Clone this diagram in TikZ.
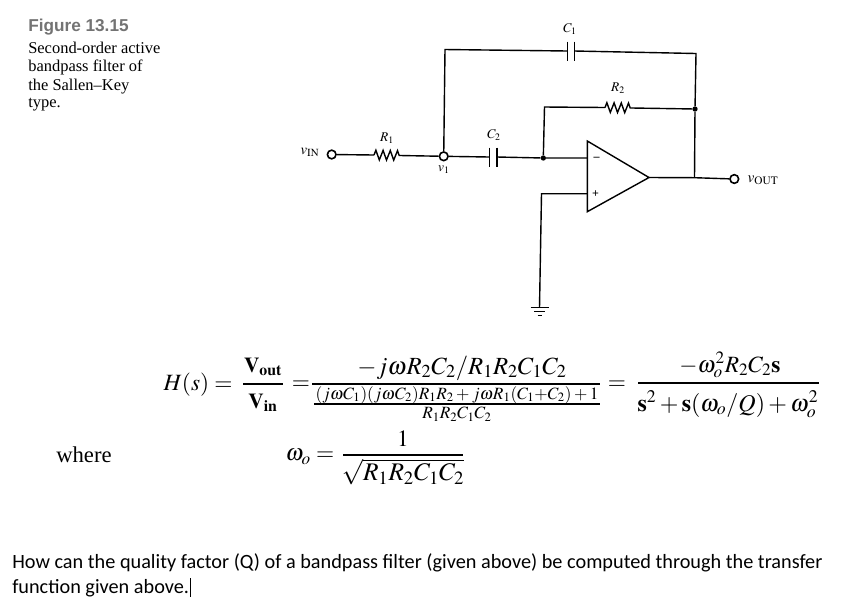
\documentclass[tikz,border=0pt]{standalone}
\usepackage{mathptmx}
\usepackage{fontspec}
\setmainfont{Liberation Serif}
\newfontfamily\calibrifont{Carlito}
\newfontfamily\headfont{Liberation Sans}
\usetikzlibrary{calc, decorations.pathmorphing}
\tikzset{
  wire/.style={line width=1.05pt},
  resistor/.style={wire, decorate, decoration={zigzag, segment length=5.4, amplitude=3.6}},
  plate/.style={line width=1.1pt},
  terminal/.style={circle, draw, line width=1.2pt, fill=white, minimum size=6.5pt, inner sep=0pt},
  junction/.style={circle, fill=black, minimum size=4pt, inner sep=0pt},
  caption/.style={anchor=west, inner sep=0pt, font=\fontsize{12.35}{14}\selectfont},
  partlabel/.style={inner sep=0pt, font=\fontsize{10}{12}\selectfont},
  sign/.style={inner sep=0pt, font=\bfseries\fontsize{9}{11}\selectfont},
  eqn/.style={inner sep=0pt, font=\fontsize{17.5}{20}\selectfont},
  eqnlarge/.style={inner sep=0pt, font=\fontsize{18.5}{21}\selectfont},
  eqnsmall/.style={inner sep=0pt, font=\fontsize{12.9}{15}\selectfont},
  bar/.style={line width=0.8pt},
  question/.style={anchor=west, inner sep=0pt, font=\calibrifont\fontsize{15.2}{18}\selectfont}
}
\begin{document}
\begin{tikzpicture}[x=0.75pt, y=-0.75pt]
\useasboundingbox (0, 0) rectangle (860, 612);
% caption
\node [caption, font=\headfont\bfseries\fontsize{12.9}{15}\selectfont, text=black!55] (fig) at (28, 27) {Figure 13.15};
\node [caption] (cap1) at (28, 48) {Second-order active};
\node [caption] (cap2) at (28, 67) {bandpass filter of};
\node [caption] (cap3) at (28, 87) {the Sallen--Key};
\node [caption] (cap4) at (28, 105) {type.};
% points of the circuit
\node [terminal] (vin) at (331.7, 154.5) {};
\coordinate (R1a) at (374, 155);
\coordinate (R1b) at (400, 155.5);
\node [terminal] (v1) at (443.7, 156.3) {};
\coordinate (C2a) at (489.5, 157);
\coordinate (C2b) at (497, 157);
\node [junction] (minus) at (543.3, 158) {};
\coordinate (R2corner) at (544.5, 107);
\coordinate (R2a) at (605, 107.5);
\coordinate (R2b) at (632, 108);
\node [junction] (fb) at (695, 109) {};
\coordinate (C1corner) at (445, 49.5);
\coordinate (C1a) at (567.5, 51);
\coordinate (C1b) at (574.5, 51);
\coordinate (C1end) at (696, 53.5);
\coordinate (inA) at (587.3, 158);
\coordinate (inB) at (587.3, 193.7);
\coordinate (plus) at (541.5, 193.7);
\coordinate (oA) at (587.3, 141);
\coordinate (oB) at (587.3, 211.7);
\coordinate (oC) at (649, 177.5);
\coordinate (tap) at (694.5, 177.7);
\node [terminal] (vout) at (734.3, 179) {};
\coordinate (gnd) at (539.5, 307.7);
% wires
\draw [wire] (vin) -- (R1a);
\draw [resistor] (R1a) -- (R1b);
\draw [wire] (R1b) -- (v1);
\draw [wire] (v1) -- (C2a);
\draw [wire] (C2b) -- (minus) -- (inA);
\draw [wire] (minus) -- (R2corner) -- (R2a);
\draw [resistor] (R2a) -- (R2b);
\draw [wire] (R2b) -- (fb);
\draw [wire] (v1) -- (C1corner) -- (C1a);
\draw [wire] (C1b) -- (C1end) -- (fb) -- (tap);
\draw [wire] (inB) -- (plus) -- (gnd);
\draw [wire] (oC) -- (tap) -- (vout);
\draw [wire, line join=miter] (oA) -- (oB) -- (oC) -- cycle;
% plates
\draw [plate] ($(C2a)+(0,-9.5)$) -- ($(C2a)+(0,9.5)$);
\draw [plate] ($(C2b)+(0,-9.5)$) -- ($(C2b)+(0,9.5)$);
\draw [plate] ($(C1a)+(0,-9.5)$) -- ($(C1a)+(0,9.5)$);
\draw [plate] ($(C1b)+(0,-9.5)$) -- ($(C1b)+(0,9.5)$);
% ground
\draw [plate] ($(gnd)+(-9,0)$) -- ($(gnd)+(9,0)$);
\draw [plate] ($(gnd)+(-5.5,4)$) -- ($(gnd)+(5.5,4)$);
\draw [plate] ($(gnd)+(-2,8)$) -- ($(gnd)+(2,8)$);
% opamp signs
\node [sign] (signm) at (596.5, 158.5) {--};
\node [sign] (signp) at (595.5, 194.5) {+};
% labels
\node [partlabel, font=\fontsize{11}{13}\selectfont] (lvin) at (310, 152.5) {$v_{\mathrm{IN}}$};
\node [partlabel] (lv1) at (444, 170) {$v_{1}$};
\node [partlabel] (lR1) at (387, 138) {$R_{1}$};
\node [partlabel] (lC2) at (494, 135) {$C_{2}$};
\node [partlabel] (lC1) at (570, 29) {$C_{1}$};
\node [partlabel] (lR2) at (618, 88) {$R_{2}$};
\node [partlabel, font=\fontsize{11.5}{13}\selectfont] (lvout) at (763, 180) {$v_{\mathrm{OUT}}$};
% equations
\node [eqn] (Hs) at (198, 385) {$H(s) =$};
\node [eqn, font=\fontsize{16}{19}\selectfont] (Vout) at (263, 367) {$\mathbf{V}_{\mathbf{out}}$};
\node [eqn, font=\fontsize{16}{19}\selectfont] (Vin) at (263, 403) {$\mathbf{V}_{\mathbf{in}}$};
\coordinate (b1a) at (243, 384);
\coordinate (b1b) at (283, 384);
\draw [bar] (b1a) -- (b1b);
\node [eqn] (eq1) at (301, 385) {$=$};
\node [eqnlarge] (num) at (462, 368) {$-j\omega R_2C_2/R_1R_2C_1C_2$};
\coordinate (b2a) at (312, 384);
\coordinate (b2b) at (600, 384);
\draw [bar] (b2a) -- (b2b);
\node [eqnsmall] (den1) at (457, 395) {$(j\omega C_1)(j\omega C_2)R_1R_2+j\omega R_1(C_1{+}C_2)+1$};
\coordinate (b3a) at (314, 404);
\coordinate (b3b) at (600, 404);
\draw [bar] (b3a) -- (b3b);
\node [eqnsmall] (den2) at (457, 414) {$R_1R_2C_1C_2$};
\node [eqn] (eq2) at (617, 385) {$=$};
\node [eqn] (num2) at (730, 365) {$-\omega_o^2R_2C_2\mathbf{s}$};
\coordinate (b4a) at (638, 383);
\coordinate (b4b) at (819, 383);
\draw [bar] (b4a) -- (b4b);
\node [eqn, font=\fontsize{18}{21}\selectfont] (den3) at (728, 404) {$\mathbf{s}^2+\mathbf{s}(\omega_o/Q)+\omega_o^2$};
\node [caption, font=\fontsize{17}{19}\selectfont] (where) at (56, 455) {where};
\node [eqn] (wo) at (310, 457) {$\omega_o =$};
\node [eqn] (one) at (403, 439) {$1$};
\coordinate (b5a) at (343, 455);
\coordinate (b5b) at (463, 455);
\draw [bar] (b5a) -- (b5b);
\node [eqnlarge, font=\fontsize{19}{22}\selectfont] (rt) at (403, 472) {$\sqrt{R_1R_2C_1C_2}$};
% question
\node [question] (q1) at (12, 563) {How can the quality factor (Q) of a bandpass filter (given above) be computed through the transfer};
\node [question] (q2) at (12, 588) {function given above.};
\coordinate (cura) at (190, 578);
\coordinate (curb) at (190, 597);
\draw [line width=0.75pt] (cura) -- (curb);
\end{tikzpicture}
\end{document}
